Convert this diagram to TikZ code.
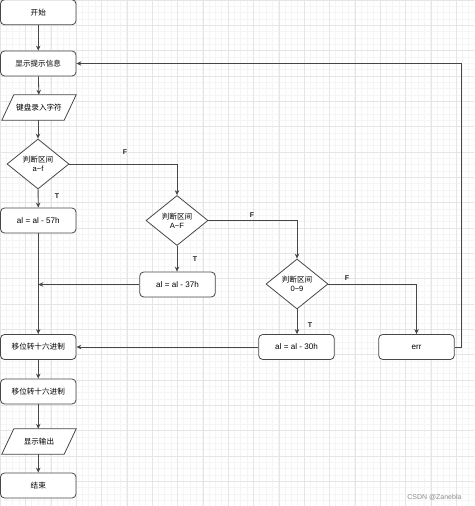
\documentclass[tikz,border=0pt]{standalone}
\usepackage{fontspec}
\setmainfont{Liberation Sans}
\newfontfamily\cjk{Noto Sans CJK SC}
\usetikzlibrary{shapes.geometric,arrows.meta}
\pgfdeclarelayer{bg}
\pgfsetlayers{bg,main}
\begin{document}
\begin{tikzpicture}[x=1pt,y=-1pt,
  line/.style={draw=black!72, line width=0.8pt},
  arr/.style={line, -{Stealth[length=5pt,width=4.5pt]}},
  box/.style={draw=black!72, line width=0.8pt, rounded corners=4pt, fill=white,
    minimum width=75.5pt, minimum height=25pt, inner sep=0pt,
    font=\cjk\fontsize{7.6}{9}\selectfont},
  calc/.style={box, font=\fontsize{8.1}{9}\selectfont},
  dec/.style={diamond, draw=black!72, line width=0.8pt, fill=white,
    minimum width=62pt, minimum height=50pt, inner sep=0pt, align=center,
    font=\fontsize{7.6}{9}\selectfont},
  para/.style={minimum width=74pt, minimum height=25pt, inner sep=0pt,
    font=\cjk\fontsize{7.6}{9}\selectfont},
  paradraw/.style={draw=black!72, line width=0.8pt, fill=white},
  lbl/.style={font=\bfseries\fontsize{7}{8}\selectfont, text=black!85},
  minorgrid/.style={draw=black!4, line width=0.4pt},
  majorgrid/.style={draw=black!10, line width=0.5pt},
]
\useasboundingbox (0,0) rectangle (474,506);
\clip (0,0) rectangle (474,506);

% nodes
\node[box] (start) at (38.25,12.25) {开始};
\node[box] (info) at (38.25,63.5) {显示提示信息};
\node[para] (input) at (39,107.5) {键盘录入字符};
\node[dec] (d1) at (38,164) {{\cjk 判断区间}\\a\textasciitilde f};
\node[calc] (b57) at (38.25,220.5) {al = al - 57h};
\node[dec] (d2) at (177,220.5) {{\cjk 判断区间}\\A\textasciitilde F};
\node[calc] (b37) at (177.5,284.5) {al = al - 37h};
\node[dec] (d3) at (297,284) {{\cjk 判断区间}\\0\textasciitilde 9};
\node[calc] (b30) at (296.5,347) {al = al - 30h};
\node[calc] (err) at (416.5,347) {err};
\node[box] (hex1) at (38.25,347) {移位转十六进制};
\node[box] (hex2) at (38.25,391.5) {移位转十六进制};
\node[para] (out) at (39,441.5) {显示输出};
\node[box] (end) at (38.25,485.5) {结束};

\begin{pgfonlayer}{bg}
  \fill[white] (0,0) rectangle (474,506);
  \foreach \i in {0,...,75} {
    \draw[minorgrid] ({\i*6.3333},0) -- ({\i*6.3333},506);
  }
  \foreach \i in {0,...,80} {
    \draw[minorgrid] (0,{\i*6.3333}) -- (474,{\i*6.3333});
  }
  \foreach \i in {0,...,18} {
    \draw[majorgrid] ({0.3+\i*25.333},0) -- ({0.3+\i*25.333},506);
  }
  \foreach \i in {0,...,20} {
    \draw[majorgrid] (0,{\i*25.333}) -- (474,{\i*25.333});
  }
  \draw[paradraw] ([xshift=12pt]input.north west) -- (input.north east)
    -- ([xshift=-12pt]input.south east) -- (input.south west) -- cycle;
  \draw[paradraw] ([xshift=12pt]out.north west) -- (out.north east)
    -- ([xshift=-12pt]out.south east) -- (out.south west) -- cycle;
\end{pgfonlayer}

% connectors
\draw[arr] (start) -- (info);
\draw[arr] (info) -- (input);
\draw[arr] (input.south -| d1.north) -- (d1);
\draw[arr] (d1) -- (b57);
\draw[arr] (d1.east) -| (d2.north);
\draw[arr] (d2) -- (d2.south |- b37.north);
\draw[arr] (d2.east) -| (d3.north);
\draw[arr] (d3) -- (d3.south |- b30.north);
\draw[arr] (d3.east) -| (err.north);
\draw[arr] (b57) -- (hex1);
\draw[arr] (b37.west) -- (b37.west -| b57.south);
\draw[arr] (b30.west) -- (hex1.east);
\coordinate (rt) at (461,63.5);
\draw[arr] (err.east) -| (rt) -- (info.east);
\draw[arr] (hex1) -- (hex2);
\draw[arr] (hex2.south) -- (hex2.south |- out.north);
\draw[arr] (out.south -| end.north) -- (end);

% labels
\node[lbl] (t1) at (57,196) {T};
\node[lbl] (f1) at (125,152) {F};
\node[lbl] (t2) at (195,259) {T};
\node[lbl] (f2) at (252,215) {F};
\node[lbl] (t3) at (310,325) {T};
\node[lbl] (f3) at (347,278) {F};

\node[font=\fontsize{7}{8}\selectfont, text=black!45, anchor=east] (wm) at (465,497) {CSDN @Zanebla};
\end{tikzpicture}
\end{document}
